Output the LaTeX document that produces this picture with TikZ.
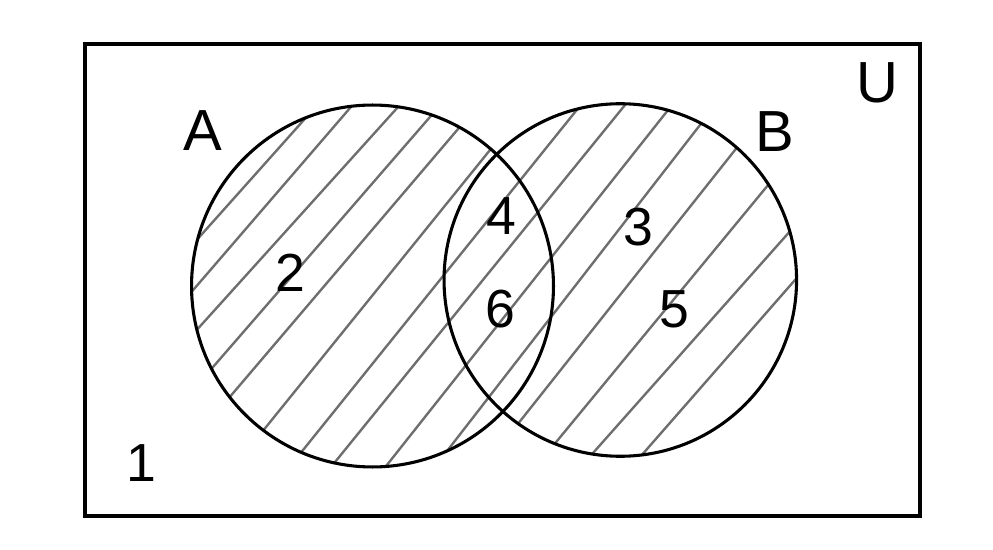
\documentclass[tikz,border=0pt]{standalone}
\usepackage{fontspec}
\setmainfont{Liberation Sans}
\definecolor{hatchgray}{RGB}{110,110,110}
\begin{document}
\begin{tikzpicture}[x=0.02cm,y=-0.02cm,
  hatch/.style={draw=hatchgray, line width=1.35pt, shorten >=-12pt, shorten <=-12pt},
  setline/.style={draw=black, line width=1.75pt},
  lbl/.style={font=\fontsize{33}{36}\selectfont, inner sep=0pt},
  num/.style={font=\fontsize{30.5}{34}\selectfont, inner sep=0pt}]
\useasboundingbox (0,0) rectangle (993,550);
\fill[white] (0,0) rectangle (993,550);
\coordinate (cA) at (372.5,286);
\coordinate (cB) at (620.3,280);
\begin{scope}
  \clip (cA) circle[radius=3.62cm] (cB) circle[radius=3.526cm];
  \foreach \xa/\ya/\xb/\yb in {
    308.3/115/196.7/240,
    348.3/110/191.7/291.7,
    398.3/106.7/196.7/330,
    431.7/115/213.3/366.7,
    460/126.7/230/396.7,
    490/150/265/428.3,
    301.7/451.7/576.7/110,
    336.7/460/625/105,
    388.3/463.3/666.7/111.7,
    449/448.5/700/125,
    521/420/735/150,
    557/441/766.7/186.7,
    593/453/786.7/235,
    643.3/453.3/795/280}
    \draw[hatch] (\xa,\ya) -- (\xb,\yb);
\end{scope}
\draw[setline] (cA) circle[radius=3.62cm];
\draw[setline] (cB) circle[radius=3.526cm];
\draw[setline] (85,44) rectangle (920,516);
\node[lbl] (U) at (877,83.3) {U};
\node[lbl] (A) at (203.3,131) {A};
\node[lbl] (B) at (775,131.7) {B};
\node[num] (n1) at (141.5,463.3) {1};
\node[num] (n2) at (290.3,272.5) {2};
\node[num] (n4) at (501.3,215.8) {4};
\node[num] (n6) at (500.7,309) {6};
\node[num] (n3) at (638.7,227.5) {3};
\node[num] (n5) at (674,309) {5};
\end{tikzpicture}
\end{document}
